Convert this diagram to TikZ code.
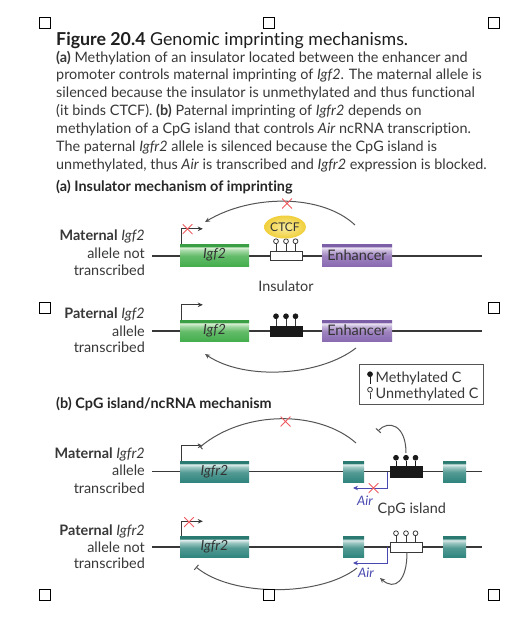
\documentclass[tikz,border=0pt]{standalone}
\usepackage{fontspec}
\setmainfont{Lato}[Ligatures={NoCommon,NoRare}]
\usetikzlibrary{arrows.meta,shapes.geometric}
\definecolor{txt}{HTML}{383838}
\definecolor{gG}{HTML}{45AE4E}
\definecolor{gGd}{HTML}{3A9E44}
\definecolor{gGl}{HTML}{DDF2D8}
\definecolor{pP}{HTML}{8A6BB2}
\definecolor{pPd}{HTML}{7C5EA6}
\definecolor{pPl}{HTML}{EEE6F5}
\definecolor{tT}{HTML}{2F857D}
\definecolor{tTd}{HTML}{2A7A72}
\definecolor{tTl}{HTML}{E2F0EE}
\definecolor{xred}{HTML}{EE5A5F}
\definecolor{airb}{HTML}{4848B0}
\definecolor{curv}{HTML}{555555}
\definecolor{yel}{HTML}{F0CF3A}
\definecolor{yell}{HTML}{FAEDA0}
\pgfdeclareverticalshading{greenbox}{100bp}{color(0bp)=(gG); color(25bp)=(gG); color(48bp)=(gG!80!gGl); color(60bp)=(gG!40!gGl); color(67bp)=(gGl); color(70bp)=(gGd); color(75bp)=(gGd); color(100bp)=(gGd)}
\pgfdeclareverticalshading{purplebox}{100bp}{color(0bp)=(pP); color(25bp)=(pP); color(48bp)=(pP!80!pPl); color(60bp)=(pP!40!pPl); color(67bp)=(pPl); color(70bp)=(pPd); color(75bp)=(pPd); color(100bp)=(pPd)}
\pgfdeclareverticalshading{tealbox}{100bp}{color(0bp)=(tT); color(25bp)=(tT); color(48bp)=(tT!80!tTl); color(60bp)=(tT!40!tTl); color(67bp)=(tTl); color(70bp)=(tTd); color(75bp)=(tTd); color(100bp)=(tTd)}
\newcommand{\bodyfont}{\fontsize{14.4}{16}\selectfont}
\begin{document}
\begin{tikzpicture}[x=1pt,y=-1pt,
  captxt/.style={anchor=base west, inner sep=0, text=txt, font=\bodyfont},
  lab/.style={anchor=base east, inner sep=0, text=txt, font=\bodyfont},
  head/.style={anchor=base west, inner sep=0, text=black!85, font=\bfseries\bodyfont},
  gene/.style={minimum height=22, inner sep=0, text=black!80, font=\itshape\fontsize{14}{14}\selectfont},
  dna/.style={draw=txt, line width=1.4},
  prom/.style={draw=txt, line width=0.9, -{Stealth[length=5,width=4.5]}},
  curvearr/.style={draw=curv, line width=1, -{Stealth[length=5,width=4.5]}},
  curvebar/.style={draw=curv, line width=1, -{Bar[width=6.5,line width=1]}},
  airarr/.style={draw=airb, line width=1, -{Stealth[length=5,width=4.5]}},
  xmark/.style={minimum size=10, inner sep=0, path picture={\draw[xred, line width=0.9] (path picture bounding box.north west) -- (path picture bounding box.south east) (path picture bounding box.north east) -- (path picture bounding box.south west);}},
  openbox/.style={draw=txt, fill=white, line width=0.9, inner sep=0, minimum width=32},
  metbox/.style={draw=black!90, fill=black!90, line width=0.9, inner sep=0, minimum width=32},
  stem/.style={draw=txt, line width=0.9},
  ucirc/.style={circle, draw=txt, fill=white, line width=0.8, inner sep=0, minimum size=4.8, anchor=south},
  mcirc/.style={circle, draw=black!90, fill=black!90, line width=0.8, inner sep=0, minimum size=4.8, anchor=south},
  handle/.style={draw=black, fill=white, line width=0.8, minimum size=11, inner sep=0}
]
\useasboundingbox[fill=white] (0,0) rectangle (530,624);

% caption
\node[anchor=base west, inner sep=0, text=black!88, font=\fontsize{17.8}{19}\selectfont] (title) at (56,45.5) {\textbf{Figure 20.4} Genomic imprinting mechanisms.};
\node[captxt] (c1) at (56,62) {\textbf{(a)} Methylation of an insulator located between the enhancer and};
\node[captxt] (c2) at (56,79.9) {promoter controls maternal imprinting of \textit{Igf2}. The maternal allele is};
\node[captxt] (c3) at (56,97.8) {silenced because the insulator is unmethylated and thus functional};
\node[captxt] (c4) at (56,115.7) {(it binds CTCF). \textbf{(b)} Paternal imprinting of \textit{Igfr2} depends on};
\node[captxt] (c5) at (56,133.6) {methylation of a CpG island that controls \textit{Air} ncRNA transcription.};
\node[captxt] (c6) at (56,151.5) {The paternal \textit{Igfr2} allele is silenced because the CpG island is};
\node[captxt] (c7) at (56,169.4) {unmethylated, thus \textit{Air} is transcribed and \textit{Igfr2} expression is blocked.};

% ===== (a) =====
\node[head] (ha) at (56,191) {(a) Insulator mechanism of imprinting};
% maternal
\coordinate (mAs) at (152,256); \coordinate (mAe) at (482,256);
\draw[dna] (mAs) -- (mAe);
\node[gene, shading=greenbox, minimum width=69] (igfM) at (214.5,255) {Igf2};
\node[gene, shading=purplebox, minimum width=70, font=\fontsize{14.5}{14}\selectfont] (enhM) at (357,255) {Enhancer};
\node[openbox, minimum height=9] (insM) at (286,255.5) {};
\foreach \dx in {-10,0,9.5} \draw[stem] ([xshift=\dx]insM.north) -- ++(0,-6.5) node[ucirc] {};
\node[ellipse, minimum width=40, minimum height=23, inner sep=0, inner color=yell, outer color=yel, text=black!80, font=\fontsize{12}{12}\selectfont] (ctcf) at (285,227) {CTCF};
\node[anchor=base, inner sep=0, text=txt, font=\bodyfont] (insl) at (286,291) {Insulator};
\coordinate (pmA) at ([xshift=2]igfM.north west);
\draw[prom] (pmA) -- ++(0,-15) coordinate (pmAt) -- ++(21,0) coordinate (pmAh);
\node[xmark] (xA1) at (187.5,229) {};
\coordinate (cA1s) at (355,225); \coordinate (cA1e) at (205,222);
\draw[curvearr] (cA1s) .. controls (322,194) and (252,194) .. (cA1e);
\node[xmark] (xA2) at (287,203.5) {};
\node[lab] (lmA1) at (145,240) {\textbf{Maternal} \textit{Igf2}};
\node[lab] (lmA2) at (145,258) {allele not};
\node[lab] (lmA3) at (145,275.5) {transcribed};

% paternal
\coordinate (pAs) at (152,331); \coordinate (pAe) at (482,331);
\draw[dna] (pAs) -- (pAe);
\node[gene, shading=greenbox, minimum width=69, minimum height=21] (igfP) at (214.5,330.5) {Igf2};
\node[gene, shading=purplebox, minimum width=70, minimum height=21, font=\fontsize{14.5}{14}\selectfont] (enhP) at (357,330.5) {Enhancer};
\node[metbox, minimum height=10] (insP) at (286,331) {};
\foreach \dx in {-10,0,9.5} \draw[stem] ([xshift=\dx]insP.north) -- ++(0,-6.5) node[mcirc] {};
\coordinate (ppA) at ([xshift=2]igfP.north west);
\draw[prom] (ppA) -- ++(0,-15) -- ++(21,0);
\coordinate (cA2s) at (356,348); \coordinate (cA2e) at (205,354);
\draw[curvearr] (cA2s) .. controls (320,376) and (245,381) .. (cA2e);
\node[lab] (lpA1) at (145,318.5) {\textbf{Paternal} \textit{Igf2}};
\node[lab] (lpA2) at (145,336) {allele};
\node[lab] (lpA3) at (145,352.5) {transcribed};

% legend
\node[draw=curv, line width=0.8, minimum width=124, minimum height=40, anchor=north west, inner sep=0] (leg) at (359,364) {};
\coordinate (lg1) at (370,383.5);
\draw[stem, draw=black!90] (lg1) -- ++(0,-6.5) node[mcirc] {};
\coordinate (lg2) at (370,399);
\draw[stem] (lg2) -- ++(0,-6.5) node[ucirc] {};
\node[anchor=base west, inner sep=0, text=txt, font=\bodyfont] (lgt1) at (375.5,382) {Methylated C};
\node[anchor=base west, inner sep=0, text=txt, font=\bodyfont] (lgt2) at (375.5,398) {Unmethylated C};

% ===== (b) =====
\node[head] (hb) at (56,408) {(b) CpG island/ncRNA mechanism};
% maternal
\coordinate (mBs) at (152,471.5); \coordinate (mBe) at (482,471.5);
\draw[dna] (mBs) -- (mBe);
\node[gene, shading=tealbox, minimum width=69, minimum height=21] (igfrM) at (214.5,471.5) {Igfr2};
\node[gene, shading=tealbox, minimum width=21, minimum height=21] (e2M) at (353.5,471.5) {};
\node[gene, shading=tealbox, minimum width=23, minimum height=21] (e3M) at (454.5,471.5) {};
\node[metbox, minimum height=11] (cpgM) at (406,471.5) {};
\foreach \dx in {-10,0,9.5} \draw[stem, draw=black!90] ([xshift=\dx]cpgM.north) -- ++(0,-5) node[mcirc] {};
\coordinate (pmB) at ([xshift=2]igfrM.north west);
\draw[prom] (pmB) -- ++(0,-15) -- ++(21,0);
\coordinate (airMs) at (387,471.5); \coordinate (airMc) at (387,488); \coordinate (airMe) at (353,488);
\draw[airarr] (airMs) -- (airMc) -- (airMe);
\node[xmark] (xB1) at (373.5,488) {};
\coordinate (cB1s) at (356,443); \coordinate (cB1e) at (200,447);
\draw[curvebar] (cB1s) .. controls (320,411) and (246,409) .. (cB1e);
\node[xmark] (xB2) at (285.5,421.5) {};
\coordinate (cB2s) at (406,453); \coordinate (cB2e) at (378,431);
\draw[curvebar] (cB2s) .. controls (406,424) and (388,420) .. (cB2e);
\node[anchor=base, inner sep=0, text=airb, font=\itshape\fontsize{13}{13}\selectfont] (airM) at (365,505.5) {Air};
\node[anchor=base west, inner sep=0, text=txt, font=\bodyfont] (cpgl) at (377.5,513) {CpG island};
\node[lab] (lmB1) at (145,458) {\textbf{Maternal} \textit{Igfr2}};
\node[lab] (lmB2) at (145,475.5) {allele};
\node[lab] (lmB3) at (145,493) {transcribed};

% paternal
\coordinate (pBs) at (152,547); \coordinate (pBe) at (482,547);
\draw[dna] (pBs) -- (pBe);
\node[gene, shading=tealbox, minimum width=69, minimum height=21] (igfrP) at (214.5,547) {Igfr2};
\node[gene, shading=tealbox, minimum width=21, minimum height=21] (e2P) at (353.5,547) {};
\node[gene, shading=tealbox, minimum width=23, minimum height=21] (e3P) at (454.5,547) {};
\node[openbox, minimum height=10] (cpgP) at (406,547) {};
\foreach \dx in {-10,0,9.5} \draw[stem] ([xshift=\dx]cpgP.north) -- ++(0,-5.5) node[ucirc] {};
\coordinate (ppB) at ([xshift=2]igfrP.north west);
\draw[prom] (ppB) -- ++(0,-15) -- ++(21,0);
\node[xmark] (xB3) at (189,522) {};
\coordinate (airPs) at (387,547); \coordinate (airPc) at (387,563); \coordinate (airPe) at (353,563);
\draw[airarr] (airPs) -- (airPc) -- (airPe);
\node[anchor=base, inner sep=0, text=airb, font=\itshape\fontsize{13}{13}\selectfont] (airP) at (366,577.5) {Air};
\coordinate (cB3s) at (357,568); \coordinate (cB3e) at (196,567);
\draw[curvebar] (cB3s) .. controls (320,597) and (232,597) .. (cB3e);
\coordinate (cB4s) at ([xshift=1]cpgP.south); \coordinate (cB4e) at (380,578);
\draw[curvearr] (cB4s) .. controls (407,581) and (395,591) .. (cB4e);
\node[lab] (lpB1) at (145,535) {\textbf{Paternal} \textit{Igfr2}};
\node[lab] (lpB2) at (145,552) {allele not};
\node[lab] (lpB3) at (145,568.5) {transcribed};

% handles
\node[handle] (h1) at (45,22.5) {};
\node[handle] (h2) at (269,22.5) {};
\node[handle] (h3) at (494,22.5) {};
\node[handle] (h4) at (45,308) {};
\node[handle] (h5) at (494,308) {};
\node[handle] (h6) at (45,594.5) {};
\node[handle] (h7) at (269,594.5) {};
\node[handle] (h8) at (494,594.5) {};
\end{tikzpicture}
\end{document}
